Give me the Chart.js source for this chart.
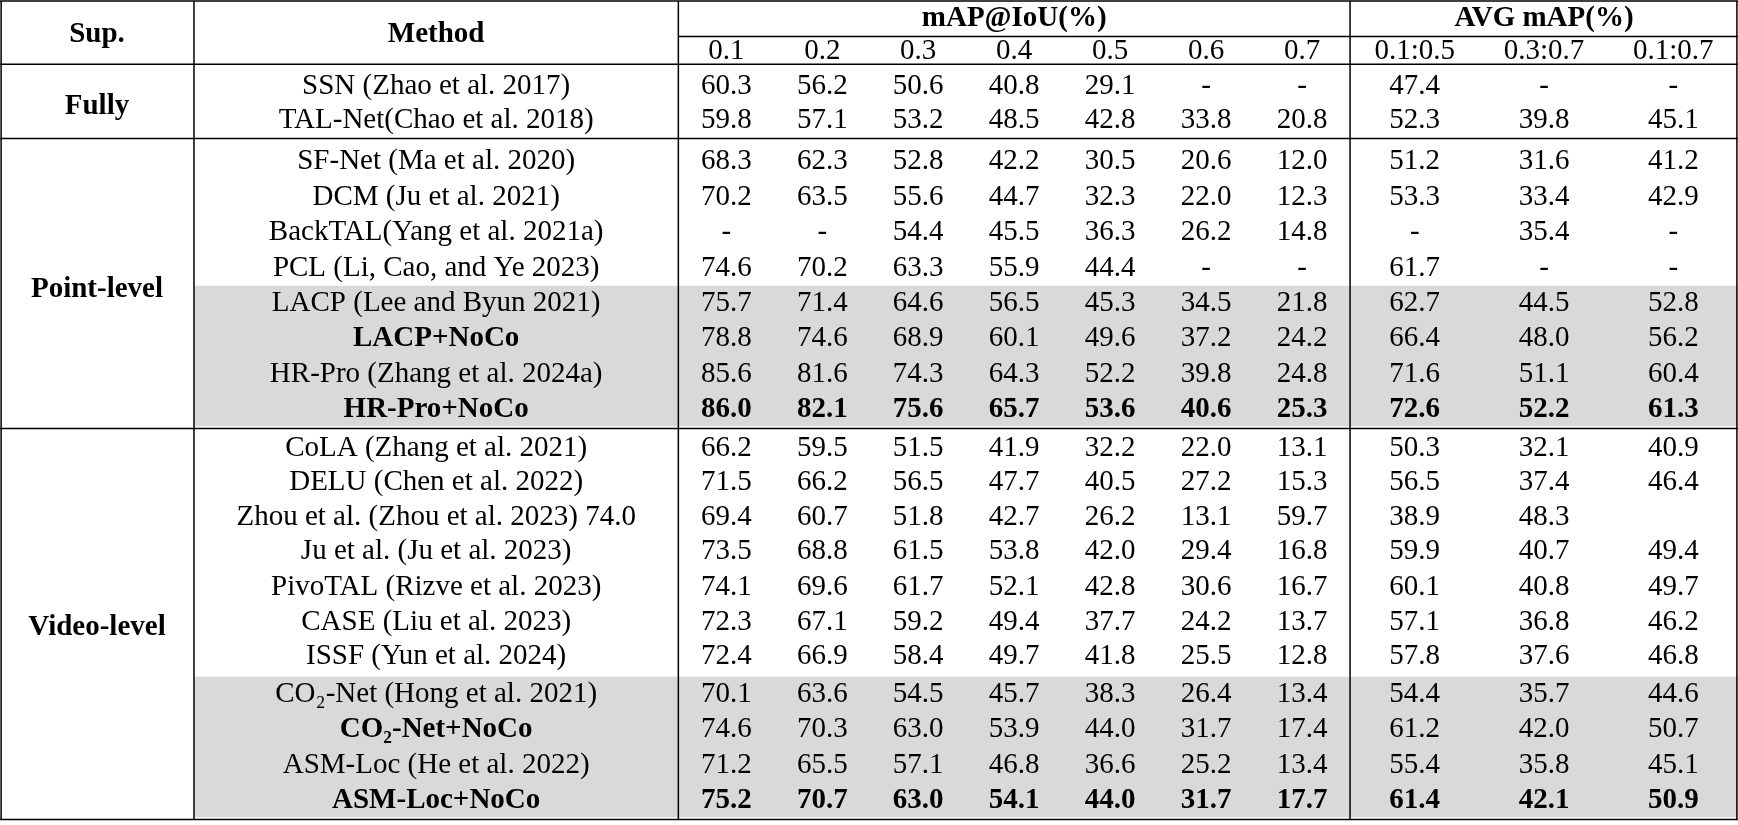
<!DOCTYPE html>
<html>
<head>
<meta charset="utf-8">
<script src="https://cdn.jsdelivr.net/npm/chart.js@4.4.1/dist/chart.umd.min.js"></script>
<style>
  html, body { margin: 0; padding: 0; background: #fff; }
  #wrap { width: 1738px; height: 825px; }
</style>
</head>
<body>
<div id="wrap"><canvas id="table"></canvas></div>
<script>
// ---- data ----
const iouThresholds = ['0.1', '0.2', '0.3', '0.4', '0.5', '0.6', '0.7']
const avgRanges = ['0.1:0.5', '0.3:0.7', '0.1:0.7']

const supGroups = [
  { label: 'Fully', rows: 2 },
  { label: 'Point-level', rows: 8 },
  { label: 'Video-level', rows: 11 },
]

const methods = [
  'SSN (Zhao et al. 2017)',
  'TAL-Net(Chao et al. 2018)',
  'SF-Net (Ma et al. 2020)',
  'DCM (Ju et al. 2021)',
  'BackTAL(Yang et al. 2021a)',
  'PCL (Li, Cao, and Ye 2023)',
  'LACP (Lee and Byun 2021)',
  'LACP+NoCo',
  'HR-Pro (Zhang et al. 2024a)',
  'HR-Pro+NoCo',
  'CoLA (Zhang et al. 2021)',
  'DELU (Chen et al. 2022)',
  'Zhou et al. (Zhou et al. 2023) 74.0',
  'Ju et al. (Ju et al. 2023)',
  'PivoTAL (Rizve et al. 2023)',
  'CASE (Liu et al. 2023)',
  'ISSF (Yun et al. 2024)',
  'CO₂-Net (Hong et al. 2021)',
  'CO₂-Net+NoCo',
  'ASM-Loc (He et al. 2022)',
  'ASM-Loc+NoCo',
]

const values = [
  ['60.3', '56.2', '50.6', '40.8', '29.1', '-', '-', '47.4', '-', '-'],
  ['59.8', '57.1', '53.2', '48.5', '42.8', '33.8', '20.8', '52.3', '39.8', '45.1'],
  ['68.3', '62.3', '52.8', '42.2', '30.5', '20.6', '12.0', '51.2', '31.6', '41.2'],
  ['70.2', '63.5', '55.6', '44.7', '32.3', '22.0', '12.3', '53.3', '33.4', '42.9'],
  ['-', '-', '54.4', '45.5', '36.3', '26.2', '14.8', '-', '35.4', '-'],
  ['74.6', '70.2', '63.3', '55.9', '44.4', '-', '-', '61.7', '-', '-'],
  ['75.7', '71.4', '64.6', '56.5', '45.3', '34.5', '21.8', '62.7', '44.5', '52.8'],
  ['78.8', '74.6', '68.9', '60.1', '49.6', '37.2', '24.2', '66.4', '48.0', '56.2'],
  ['85.6', '81.6', '74.3', '64.3', '52.2', '39.8', '24.8', '71.6', '51.1', '60.4'],
  ['86.0', '82.1', '75.6', '65.7', '53.6', '40.6', '25.3', '72.6', '52.2', '61.3'],
  ['66.2', '59.5', '51.5', '41.9', '32.2', '22.0', '13.1', '50.3', '32.1', '40.9'],
  ['71.5', '66.2', '56.5', '47.7', '40.5', '27.2', '15.3', '56.5', '37.4', '46.4'],
  ['69.4', '60.7', '51.8', '42.7', '26.2', '13.1', '59.7', '38.9', '48.3', ''],
  ['73.5', '68.8', '61.5', '53.8', '42.0', '29.4', '16.8', '59.9', '40.7', '49.4'],
  ['74.1', '69.6', '61.7', '52.1', '42.8', '30.6', '16.7', '60.1', '40.8', '49.7'],
  ['72.3', '67.1', '59.2', '49.4', '37.7', '24.2', '13.7', '57.1', '36.8', '46.2'],
  ['72.4', '66.9', '58.4', '49.7', '41.8', '25.5', '12.8', '57.8', '37.6', '46.8'],
  ['70.1', '63.6', '54.5', '45.7', '38.3', '26.4', '13.4', '54.4', '35.7', '44.6'],
  ['74.6', '70.3', '63.0', '53.9', '44.0', '31.7', '17.4', '61.2', '42.0', '50.7'],
  ['71.2', '65.5', '57.1', '46.8', '36.6', '25.2', '13.4', '55.4', '35.8', '45.1'],
  ['75.2', '70.7', '63.0', '54.1', '44.0', '31.7', '17.7', '61.4', '42.1', '50.9'],
]

// bold: 'method' = only method name, 'all' = whole row
const boldRows = { 7: 'method', 9: 'all', 18: 'method', 20: 'all' }
// shaded row ranges [first, last]
const shadedRows = [[6, 9], [17, 20]]

// ---- layout in table units (1568 x 745) ----
const W = 1568, H = 745
const colEdges = [0, 175, 612]
for (let i = 1; i <= 7; i++) colEdges.push(612 + i * (606 / 7))
for (let i = 1; i <= 3; i++) colEdges.push(1218 + i * (350 / 3))
const rowCenters = [78, 109, 146, 178, 210, 242, 274, 306, 338, 370,
  405, 436, 467, 498, 530, 562, 593, 627, 659, 691, 723]
const ROW_H = 32
const groupRules = [58, 125, 387]
const FONT = 'Liberation Serif, Times New Roman, serif'

const tablePlugin = {
  id: 'tablePlugin',
  beforeDraw(chart) {
    const { ctx, scales: { x, y } } = chart
    ctx.save()
    ctx.fillStyle = '#fff'
    ctx.fillRect(0, 0, chart.width, chart.height)
    ctx.fillStyle = '#d9d9d9'
    for (let [a, b] of shadedRows) {
      let top = y.getPixelForValue(rowCenters[a] - ROW_H / 2)
      let bot = y.getPixelForValue(rowCenters[b] + ROW_H / 2 - 1)
      ctx.fillRect(x.getPixelForValue(colEdges[1]), top, x.getPixelForValue(W) - x.getPixelForValue(colEdges[1]), bot - top)
    }
    ctx.restore()
  },
  afterDraw(chart) {
    const { ctx, scales: { x, y } } = chart
    const px = (v) => x.getPixelForValue(v)
    const py = (v) => y.getPixelForValue(v)
    const k = chart.width / W
    const fs = Math.round(26 * k)
    ctx.save()
    ctx.strokeStyle = '#000'
    ctx.lineWidth = 1.5

    const hline = (yy, x0, x1) => { ctx.beginPath(); ctx.moveTo(px(x0), py(yy)); ctx.lineTo(px(x1), py(yy)); ctx.stroke() }
    const vline = (xx, y0, y1) => { ctx.beginPath(); ctx.moveTo(px(xx), py(y0)); ctx.lineTo(px(xx), py(y1)); ctx.stroke() }

    hline(1, 0, W)
    hline(33, colEdges[2], W)
    for (let r of groupRules) hline(r, 0, W)
    hline(740, 0, W)
    for (let xx of [1, colEdges[1], colEdges[2], colEdges[9], W - 1]) vline(xx, 1, 740)

    ctx.fillStyle = '#000'
    ctx.textAlign = 'center'
    ctx.textBaseline = 'middle'
    const text = (s, cx, cy, bold) => {
      ctx.font = (bold ? 'bold ' : '') + fs + 'px ' + FONT
      ctx.fillText(s, px(cx), py(cy))
    }
    const mid = (i) => (colEdges[i] + colEdges[i + 1]) / 2

    // headers
    text('Sup.', mid(0), 31, true)
    text('Method', mid(1), 31, true)
    text('mAP@IoU(%)', (colEdges[2] + colEdges[9]) / 2, 17, true)
    text('AVG mAP(%)', (colEdges[9] + W) / 2, 17, true)
    iouThresholds.forEach((t, i) => text(t, mid(2 + i), 46, false))
    avgRanges.forEach((t, i) => text(t, mid(9 + i), 46, false))

    // sup groups
    let r0 = 0
    for (let g of supGroups) {
      let cy = (rowCenters[r0] + rowCenters[r0 + g.rows - 1]) / 2 + 3
      text(g.label, mid(0), cy, true)
      r0 += g.rows
    }

    // body
    methods.forEach((m, r) => {
      let b = boldRows[r]
      text(m, mid(1), rowCenters[r], !!b)
      values[r].forEach((v, c) => text(v, mid(2 + c), rowCenters[r], b === 'all'))
    })
    ctx.restore()
  },
}

new Chart(document.getElementById('table'), {
  type: 'scatter',
  data: { datasets: [{ data: [], pointRadius: 0 }] },
  options: {
    responsive: true,
    maintainAspectRatio: false,
    animation: false,
    layout: { padding: 0 },
    plugins: { legend: { display: false }, tooltip: { enabled: false } },
    scales: {
      x: { type: 'linear', min: 0, max: W, display: false },
      y: { type: 'linear', min: 0, max: H, reverse: true, display: false },
    },
  },
  plugins: [tablePlugin],
})
</script>
</body>
</html>
